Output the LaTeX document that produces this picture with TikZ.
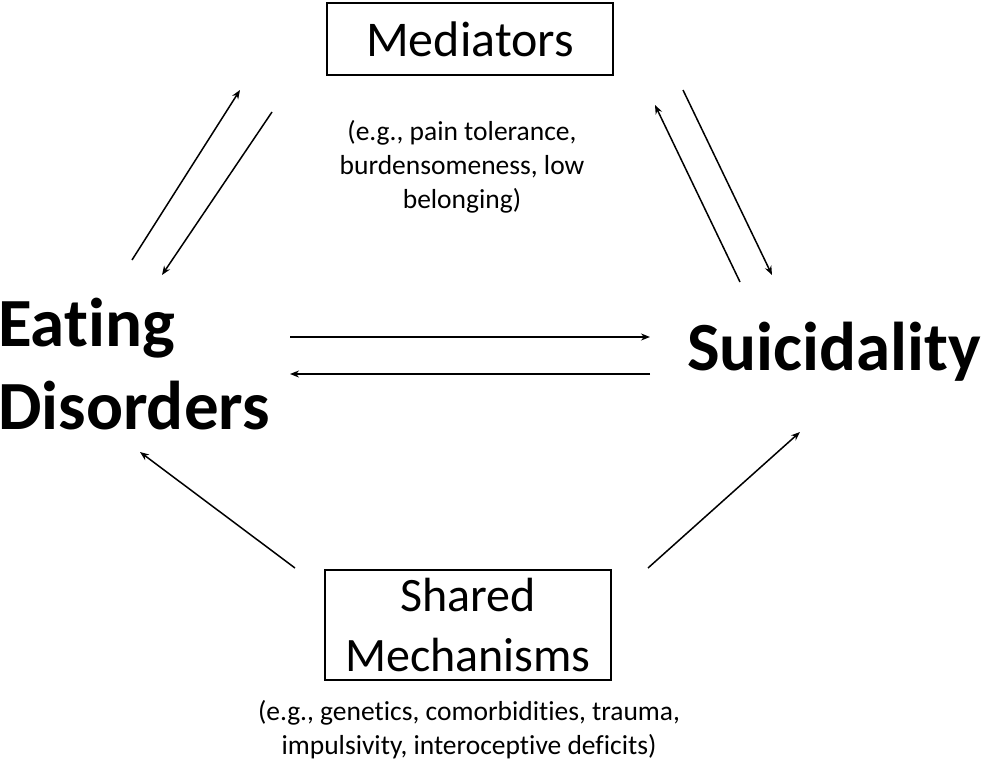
\documentclass[tikz,border=0pt]{standalone}
\usepackage{fontspec}
\setmainfont{Carlito}[Ligatures={NoCommon}]
\usetikzlibrary{arrows.meta, positioning}
\tikzset{
    box/.style={draw, line width=1.8pt, minimum width=286pt, align=center},
    note/.style={align=center, font=\fontsize{27.5}{34}\selectfont},
    big/.style={font=\fontsize{69}{83}\selectfont\bfseries},
    link/.style={line width=1.5pt, -{Stealth[length=9pt, width=7pt]}}
}
\begin{document}
\begin{tikzpicture}[x=1pt, y=-1pt]
    \useasboundingbox (0,0) rectangle (986,760);
    % Mediators
    \node[box, minimum height=72pt, font=\fontsize{50}{50}\selectfont] (med) at (470,39) {Mediators};
    \node[note] (mednote) at (462,167) {(e.g., pain tolerance,\\burdensomeness, low\\belonging)};
    % Shared mechanisms
    \node[box, minimum height=110pt, font=\fontsize{48}{60}\selectfont] (shared) at (468,625) {Shared\\Mechanisms};
    \node[note] (sharednote) at (469,730) {(e.g., genetics, comorbidities, trauma,\\impulsivity, interoceptive deficits)};
    % Outcomes
    \node[big, align=left, anchor=west, inner sep=0pt] (ed) at (-2,364) {Eating\\Disorders};
    \node[big] (sui) at (834,352) {Suicidality};

    % arrow end points
    \coordinate (a1) at (132,260); \coordinate (b1) at (240,90);
    \coordinate (a2) at (272,112); \coordinate (b2) at (162,275);
    \coordinate (a3) at (740,282); \coordinate (b3) at (655,105);
    \coordinate (a4) at (683,90);  \coordinate (b4) at (772,275);
    \coordinate (a5) at (290,337); \coordinate (b5) at (650,337);
    \coordinate (a6) at (650,374); \coordinate (b6) at (290,374);
    \coordinate (a7) at (295,568); \coordinate (b7) at (140,452);
    \coordinate (a8) at (648,568); \coordinate (b8) at (800,432);
    \foreach \i in {1,...,8}
        \draw[link] (a\i) -- (b\i);
\end{tikzpicture}
\end{document}
